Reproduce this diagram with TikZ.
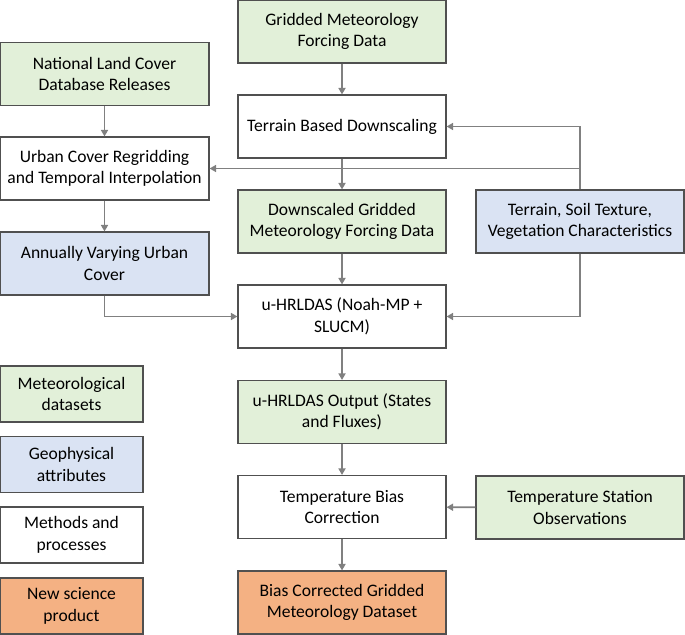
\documentclass[tikz,border=0pt]{standalone}
\usepackage{fontspec}
\setmainfont{Carlito}
\usetikzlibrary{arrows.meta}
\definecolor{gfill}{HTML}{E2F0D9}
\definecolor{bfill}{HTML}{DAE3F3}
\definecolor{ofill}{HTML}{F4B183}
\definecolor{edgec}{HTML}{505050}
\definecolor{arrc}{HTML}{808080}
\tikzset{
  box/.style={draw=edgec, line width=1.1bp, inner sep=0pt, align=center,
    minimum width=208bp, minimum height=63bp, font=\fontsize{17.6}{21.5}\selectfont},
  leg/.style={box, minimum width=143bp, minimum height=56bp},
  gbox/.style={fill=gfill},
  bbox/.style={fill=bfill},
  obox/.style={fill=ofill},
  wbox/.style={fill=white},
  arr/.style={draw=arrc, line width=1.6bp, -{Triangle[length=6.5bp,width=7bp]}}
}
\begin{document}
\begin{tikzpicture}[x=1bp,y=-1bp]
\useasboundingbox (0,0) rectangle (685,635);
% centre column
\node[box,gbox] (gm) at (342,31.5) {Gridded Meteorology\\Forcing Data};
\node[box,wbox] (tbd) at (342,126.5) {Terrain Based Downscaling};
\node[box,gbox] (dg) at (342,221.5) {Downscaled Gridded\\Meteorology Forcing Data};
\node[box,wbox] (uh) at (342,316.5) {u-HRLDAS (Noah-MP +\\SLUCM)};
\node[box,gbox] (uo) at (342,412) {u-HRLDAS Output (States\\and Fluxes)};
\node[box,wbox] (tb) at (342,507) {Temperature Bias\\Correction};
\node[box,obox] (bc) at (342,602.5) {Bias Corrected Gridded\\Meteorology Dataset};
% left column
\node[box,gbox,minimum width=209bp] (nl) at (104.5,74) {National Land Cover\\Database Releases};
\node[box,wbox,minimum width=209bp] (uc) at (104.5,168.5) {Urban Cover Regridding\\and Temporal Interpolation};
\node[box,bbox,minimum width=209bp] (av) at (104.5,263.5) {Annually Varying Urban\\Cover};
% right column
\node[box,bbox] (ts) at (580,221.5) {Terrain, Soil Texture,\\Vegetation Characteristics};
\node[box,gbox] (tso) at (580,507.5) {Temperature Station\\Observations};
% legend
\node[leg,gbox] (lm) at (71.5,394) {Meteorological\\datasets};
\node[leg,bbox] (lg) at (71.5,464.5) {Geophysical\\attributes};
\node[leg,wbox] (lmp) at (71.5,535) {Methods and\\processes};
\node[leg,obox] (lns) at (71.5,606) {New science\\product};
% connectors
\draw[arr] (gm) -- (tbd);
\draw[arr] (tbd) -- (dg);
\draw[arr] (dg) -- (uh);
\draw[arr] (uh) -- (uo);
\draw[arr] (uo) -- (tb);
\draw[arr] (tb) -- (bc);
\draw[arr] (nl) -- (uc);
\draw[arr] (uc) -- (av);
\draw[arr] (av.south) |- (uh.west);
\draw[arr] (ts.north) |- (tbd.east);
\draw[arr] (ts.north) |- (uc.east);
\draw[arr] (ts.south) |- (uh.east);
\draw[arr] (tso) -- (tb);
\end{tikzpicture}
\end{document}
